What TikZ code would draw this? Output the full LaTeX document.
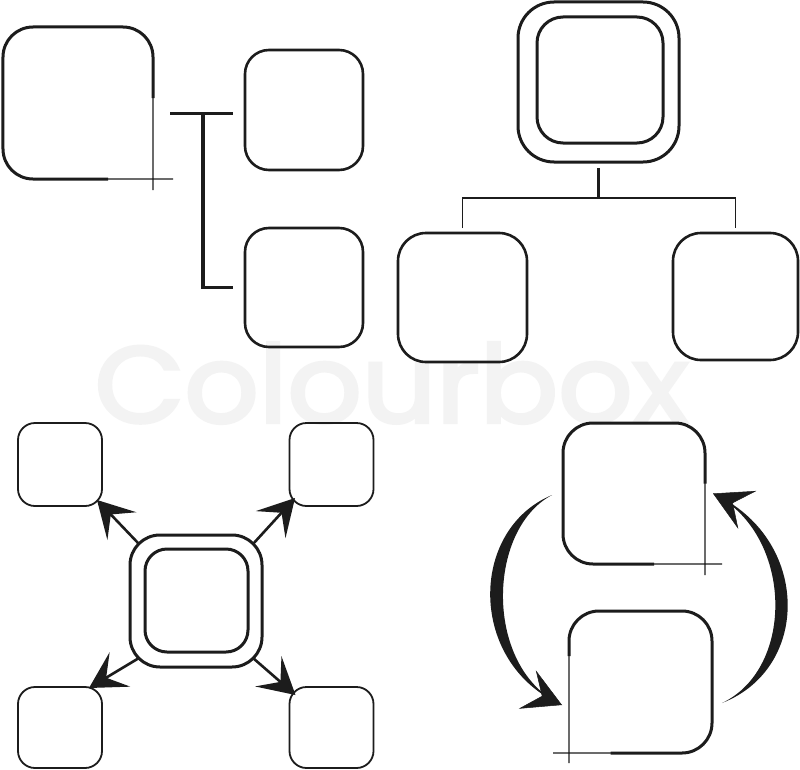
\documentclass[tikz,border=0pt]{standalone}
\usepackage{fontspec}
\usepackage{graphicx}
\usetikzlibrary{arrows.meta,calc}
\newfontfamily\wmfont{Poppins}[FakeBold=3]
\definecolor{ink}{RGB}{28,28,28}
\definecolor{wmgray}{RGB}{243,243,243}
\tikzset{
  card/.style={draw=ink, line width=2.6bp, rounded corners=#1, inner sep=0pt, outer sep=0pt},
  card/.default=24bp,
  smallcard/.style={draw=ink, line width=1.8bp, rounded corners=17bp, minimum width=84bp, minimum height=83bp, inner sep=0pt, outer sep=0pt},
  holder/.style={inner sep=0pt, outer sep=0pt},
  wire/.style={draw=ink, line width=#1},
  spoke/.style={draw=ink, line width=2.6bp, -{Stealth[length=36bp,width=40bp,inset=16bp]}},
  swirlhead/.style={draw=ink, line width=0.5bp, -{Stealth[length=38bp,width=42bp,inset=16bp]}},
}
\begin{document}
\begin{tikzpicture}[x=1bp,y=-1bp]
\useasboundingbox (0,0) rectangle (800,770);
\fill[white] (0,0) rectangle (800,770);
% watermark
\node[holder, text=wmgray] (wm) at (391.5,383) {\resizebox{593bp}{80bp}{\wmfont Colourbox}};

% ---------- quadrant 1: box with two branches ----------
\node[holder, minimum width=150bp, minimum height=152bp] (A) at (78,103) {};
\draw[ink, line width=1.3bp, rounded corners=30bp] ($(A.south east)+(0,11)$) -- (A.north east) -- (A.north west) -- (A.south west) -- ($(A.south east)+(20,0)$);
\draw[ink, line width=3bp, rounded corners=30bp] ($(A.south)+(30,0)$) -- (A.south west) -- (A.north west) -- (A.north east) -- ($(A.east)+(0,-5)$);
\node[card=24bp, minimum width=118bp, minimum height=120bp] (B1) at (304,110) {};
\node[card=24bp, minimum width=118bp, minimum height=119bp] (B2) at (304,287.5) {};
\coordinate (tj) at (203,113);
\draw[wire=3bp] ($(A.east |- tj)+(17,0)$) -- ($(B1.west |- tj)+(-12,0)$);
\draw[wire=3.2bp] (tj) -- (tj |- B2.west) -- ($(B2.west)+(-12,0)$);

% ---------- quadrant 2: tree ----------
\node[card=36bp, minimum width=161bp, minimum height=160bp, line width=3bp] (C) at (598.5,82) {};
\node[card=26bp, minimum width=126bp, minimum height=126bp, line width=3bp] (Ci) at (600,80) {};
\node[card=28bp, minimum width=129bp, minimum height=129bp] (D1) at (462.5,297.5) {};
\node[card=28bp, minimum width=125bp, minimum height=127bp] (D2) at (735.5,296.5) {};
\coordinate (bar) at (598,198);
\draw[wire=3bp] ($(C.south)+(0,6)$) -- (C.south |- bar);
\draw[wire=1.2bp] ($(D1.north)+(0,-5)$) -- (D1.north |- bar) -- (D2.north |- bar) -- ($(D2.north)+(0,-5)$);
\draw[wire=2.2bp] (D1.north |- bar) -- (D2.north |- bar);

% ---------- quadrant 3: hub with four spokes ----------
\node[smallcard] (E1) at (60,464.5) {};
\node[smallcard] (E2) at (331.5,464.5) {};
\node[smallcard, minimum height=81bp] (E3) at (60,727.5) {};
\node[smallcard, minimum height=81bp] (E4) at (331.5,727.5) {};
\node[card=30bp, minimum width=132bp, minimum height=132bp, line width=3bp] (F) at (196,601) {};
\node[card=22bp, minimum width=103bp, minimum height=103bp, line width=3bp] (Fi) at (196.5,600.5) {};
\draw[spoke] ($(F.north west)+(9,9)$) -- ($(E1.south east)+(-5,-6)$);
\draw[spoke] ($(F.north east)+(-9,9)$) -- ($(E2.south west)+(5.5,-8)$);
\draw[spoke] ($(F.south west)+(9,-9)$) -- ($(E3.north east)+(-13,1)$);
\draw[spoke] ($(F.south east)+(-9,-9)$) -- ($(E4.north west)+(6,8)$);

% ---------- quadrant 4: cycle ----------
\node[holder, minimum width=142bp, minimum height=141bp] (G1) at (634,493.5) {};
\node[holder, minimum width=143bp, minimum height=142bp] (G2) at (640.5,682) {};
\draw[ink, line width=1.3bp, rounded corners=30bp] ($(G1.south east)+(0,11)$) -- (G1.north east) -- (G1.north west) -- (G1.south west) -- ($(G1.south east)+(17,0)$);
\draw[ink, line width=3bp, rounded corners=30bp] ($(G1.south)+(20,0)$) -- (G1.south west) -- (G1.north west) -- (G1.north east) -- ($(G1.east)+(0,-10)$);
\draw[ink, line width=1.3bp, rounded corners=30bp] ($(G2.south west)+(0,10)$) -- (G2.north west) -- (G2.north east) -- (G2.south east) -- ($(G2.south west)+(-16,0)$);
\draw[ink, line width=3bp, rounded corners=30bp] ($(G2.north west)+(0,45)$) -- (G2.north west) -- (G2.north east) -- (G2.south east) -- ($(G2.south)+(-30,0)$);
\coordinate (la) at ($(G1.west)+(-11,1.5)$);
\coordinate (lb) at ($(G2.west)+(-7,23)$);
\coordinate (ra) at ($(G2.east)+(10,21)$);
\coordinate (rb) at ($(G1.east)+(8,0)$);
% left swirl: crescent body and head
\fill[ink] (la) .. controls +(-84,35) and +(-94,-41) .. (lb) .. controls +(-78,-36) and +(-66,35) .. (la) -- cycle;
\draw[swirlhead] ($(lb)+(-9.2,-4.1)$) -- (lb);
% right swirl: crescent body and head
\fill[ink] (ra) .. controls +(90,-35) and +(97,44) .. (rb) .. controls +(80,40) and +(74,-35) .. (ra) -- cycle;
\draw[swirlhead] ($(rb)+(9,4.3)$) -- (rb);
\end{tikzpicture}
\end{document}
